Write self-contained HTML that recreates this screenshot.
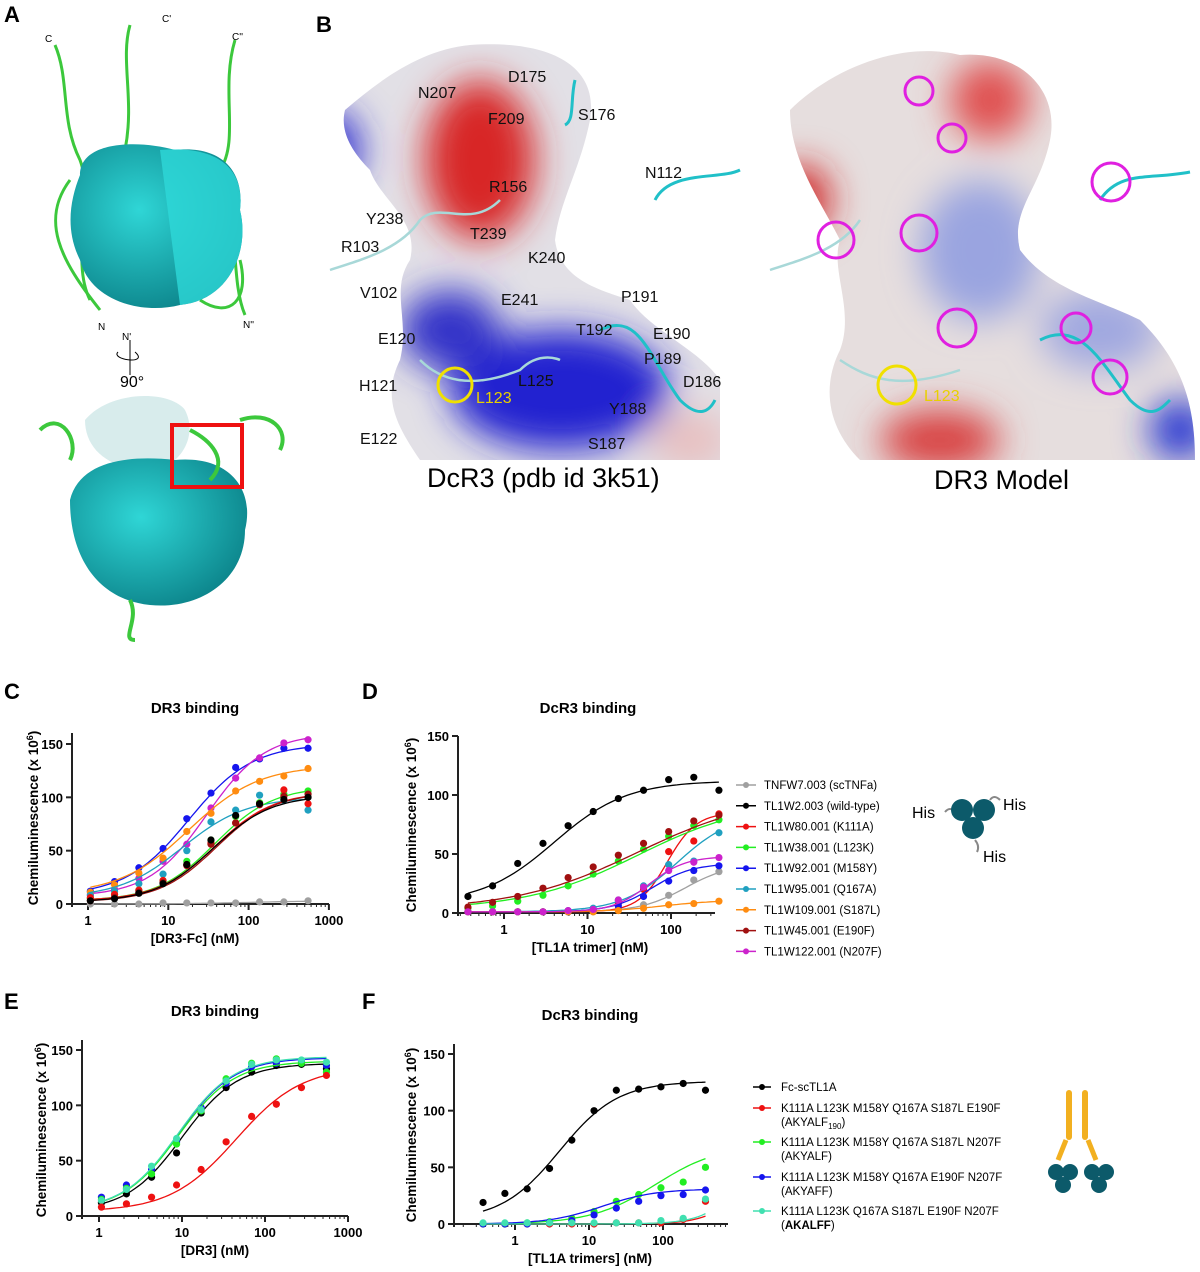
<!DOCTYPE html>
<html><head><meta charset="utf-8">
<style>
body{margin:0;background:#fff;}
svg{display:block;font-family:"Liberation Sans",Arial,sans-serif;}
.pl{font-size:22px;font-weight:bold;}
.lbl{font-size:16px;fill:#111;}
.tt{font-size:15px;font-weight:bold;}
.tk{font-size:13px;font-weight:bold;}
.at{font-size:13.5px;font-weight:bold;}
.lg{font-size:11.5px;}
</style></head>
<body>
<svg id="fig" width="1200" height="1272" viewBox="0 0 1200 1272">
<defs>
<radialGradient id="cy" cx="0.4" cy="0.4" r="0.7"><stop offset="0" stop-color="#2fd6d6"/><stop offset="1" stop-color="#0a7f86"/></radialGradient>
<filter id="bl" x="-50%" y="-50%" width="200%" height="200%"><feGaussianBlur stdDeviation="18"/></filter>
<clipPath id="cpl"><path d="M345 110 C380 80 420 50 470 45 C540 40 600 60 590 120 C580 170 560 200 555 240 C560 280 600 290 630 300 C650 330 700 350 720 380 L720 460 L420 460 C400 430 380 400 400 360 C410 320 390 290 410 260 C420 220 380 200 370 170 C350 150 340 130 345 110Z"/></clipPath>
<clipPath id="cpr"><path d="M790 110 C830 70 900 40 960 55 C1020 50 1060 90 1050 140 C1040 190 1010 210 1020 250 C1050 290 1100 300 1140 320 C1180 360 1195 400 1195 460 L860 460 C830 430 820 390 840 350 C855 310 830 270 840 240 C820 200 790 160 790 110Z"/></clipPath>
</defs>

<!-- Panel A -->
<g>
<text class="pl" x="4" y="22">A</text>
<g stroke="#3cc83c" stroke-width="3" fill="none">
<path d="M55 45 C70 80 60 120 80 160 C95 200 70 260 90 300"/>
<path d="M130 25 C120 60 135 100 125 150"/>
<path d="M235 40 C220 90 240 140 220 170 C240 220 230 280 245 315"/>
<path d="M70 180 C40 220 60 260 100 310 M200 300 C230 320 250 300 240 260"/>
</g>
<path d="M80 175 C80 140 140 140 175 150 C220 145 245 170 240 210 C250 250 230 300 180 305 C140 315 90 300 80 260 C65 230 70 200 80 175Z" fill="url(#cy)"/>
<path d="M160 150 C220 145 245 170 240 210 C250 250 230 300 180 305Z" fill="#2ed8d8" opacity="0.8"/>
<text x="45" y="42" font-size="10">C</text><text x="162" y="22" font-size="10">C'</text><text x="232" y="40" font-size="10">C''</text>
<text x="98" y="330" font-size="10">N</text><text x="122" y="340" font-size="10">N'</text><text x="243" y="328" font-size="10">N''</text>
<path d="M118 352 C110 360 150 365 135 352" stroke="#000" fill="none"/>
<line x1="130" y1="340" x2="130" y2="375" stroke="#000"/>
<text x="120" y="387" font-size="16">90°</text>
<path d="M85 420 C110 390 170 390 185 410 C200 440 175 470 150 470 C110 470 85 450 85 420Z" fill="#d8ecec"/>
<path d="M70 500 C80 460 130 455 175 460 C230 455 255 490 245 530 C245 580 200 610 150 605 C100 600 70 560 70 500Z" fill="url(#cy)"/>
<g stroke="#3cc83c" stroke-width="4" fill="none"><path d="M40 430 C60 410 80 440 70 460"/><path d="M240 420 C270 410 290 430 280 450"/><path d="M130 600 C140 620 120 640 135 640"/><path d="M190 430 C210 440 230 460 210 480"/></g>
<rect x="172" y="425" width="70" height="62" fill="none" stroke="#ee1111" stroke-width="4"/>
</g>

<!-- Panel B -->
<g>
<text class="pl" x="316" y="32">B</text>
<g clip-path="url(#cpl)">
<rect x="330" y="30" width="400" height="440" fill="#e2e0e6"/>
<g filter="url(#bl)">
<ellipse cx="330" cy="150" rx="30" ry="40" fill="#2a2ad0"/>
<ellipse cx="480" cy="160" rx="55" ry="80" fill="#d82828"/>
<ellipse cx="560" cy="390" rx="110" ry="60" fill="#2020d0"/>
<ellipse cx="450" cy="330" rx="50" ry="40" fill="#3030c8"/>
<ellipse cx="690" cy="440" rx="40" ry="30" fill="#e8c0c0"/>
</g></g>
<g clip-path="url(#cpr)">
<rect x="770" y="30" width="440" height="440" fill="#e6dede"/>
<g filter="url(#bl)">
<ellipse cx="800" cy="200" rx="30" ry="35" fill="#d02020"/>
<ellipse cx="990" cy="100" rx="40" ry="40" fill="#e05050"/>
<ellipse cx="980" cy="250" rx="60" ry="70" fill="#9aa4e0"/>
<ellipse cx="1100" cy="330" rx="60" ry="40" fill="#a0a8e0"/>
<ellipse cx="940" cy="440" rx="60" ry="30" fill="#d84040"/>
<ellipse cx="1180" cy="430" rx="30" ry="30" fill="#2030d0"/>
</g></g>
<g stroke="#20c0c8" stroke-width="3" fill="none"><path d="M655 200 C670 170 720 180 740 170"/><path d="M1100 200 C1120 170 1150 180 1190 172"/><path d="M575 80 C570 100 575 120 565 125"/><path d="M600 330 C640 310 650 360 680 400 C700 420 710 410 715 400"/><path d="M1040 340 C1080 320 1100 360 1130 400 C1150 420 1160 410 1170 400"/></g>
<g stroke="#a8d8d8" stroke-width="2.5" fill="none"><path d="M330 270 C360 260 400 250 420 220 C440 200 470 230 500 200"/><path d="M420 360 C440 380 470 390 520 370 C540 350 560 360 560 360"/><path d="M770 270 C800 260 840 250 860 220"/><path d="M840 360 C870 380 900 390 960 370"/></g>
<g class="lbl">
<text x="418" y="98">N207</text><text x="508" y="82">D175</text><text x="488" y="124">F209</text><text x="578" y="120">S176</text>
<text x="645" y="178">N112</text><text x="489" y="192">R156</text><text x="366" y="224">Y238</text><text x="470" y="239">T239</text>
<text x="341" y="252">R103</text><text x="528" y="263">K240</text><text x="360" y="298">V102</text><text x="501" y="305">E241</text>
<text x="621" y="302">P191</text><text x="576" y="335">T192</text><text x="653" y="339">E190</text><text x="378" y="344">E120</text>
<text x="644" y="364">P189</text><text x="518" y="386">L125</text><text x="359" y="391">H121</text><text x="683" y="387">D186</text>
<text x="609" y="414">Y188</text><text x="360" y="444">E122</text><text x="588" y="449">S187</text>
<text x="476" y="403" fill="#e8d000">L123</text><text x="924" y="401" fill="#e8d000">L123</text>
</g>
<circle cx="455" cy="385" r="17" fill="none" stroke="#f0e000" stroke-width="3"/>
<circle cx="897" cy="385" r="19" fill="none" stroke="#f0e000" stroke-width="3"/>
<g fill="none" stroke="#e020e0" stroke-width="3">
<circle cx="919" cy="91" r="14"/><circle cx="952" cy="138" r="14"/><circle cx="1111" cy="182" r="19"/><circle cx="836" cy="240" r="18"/><circle cx="919" cy="233" r="18"/><circle cx="957" cy="328" r="19"/><circle cx="1076" cy="328" r="15"/><circle cx="1110" cy="377" r="17"/>
</g>
<text x="427" y="487" font-size="27">DcR3 (pdb id 3k51)</text>
<text x="934" y="489" font-size="27">DR3 Model</text>
</g>

<text class="pl" x="4" y="699">C</text>
<text class="pl" x="362" y="699">D</text>
<text class="pl" x="4" y="1009">E</text>
<text class="pl" x="362" y="1009">F</text>

<g>
<text x="912" y="818" font-size="16">His</text><text x="1003" y="810" font-size="16">His</text><text x="983" y="862" font-size="16">His</text>
<path d="M945 812 q5 -6 10 0 M990 800 q4 -6 10 0 M975 840 q5 6 2 12" stroke="#888" fill="none" stroke-width="2"/>
<circle cx="962" cy="810" r="11" fill="#0c5a6a"/><circle cx="984" cy="810" r="11" fill="#0c5a6a"/><circle cx="973" cy="828" r="11" fill="#0c5a6a"/>
</g>
<g>
<rect x="1066" y="1090" width="6" height="50" rx="3" fill="#f2b020"/><rect x="1082" y="1090" width="6" height="50" rx="3" fill="#f2b020"/>
<path d="M1066 1140 L1058 1160 M1088 1140 L1096 1160" stroke="#f2b020" stroke-width="5"/>
<circle cx="1056" cy="1172" r="8" fill="#0c5a6a"/><circle cx="1070" cy="1172" r="8" fill="#0c5a6a"/><circle cx="1063" cy="1185" r="8" fill="#0c5a6a"/>
<circle cx="1092" cy="1172" r="8" fill="#0c5a6a"/><circle cx="1106" cy="1172" r="8" fill="#0c5a6a"/><circle cx="1099" cy="1185" r="8" fill="#0c5a6a"/>
</g>
<g id="charts"></g>
</svg>
<script>
const xC=[1.07,2.14,4.3,8.6,17,34,69,137,275,550];
const xD=[0.37,0.73,1.46,2.93,5.86,11.7,23.4,46.9,93.8,187.5,375];
const yTicks=[0,50,100,150];
const namesC=['gray','blue','magenta','orange','teal','green','red','darkred','black'];
const colorsC=['#a0a0a0','#1515ee','#cc22cc','#ff8c10','#20a0c0','#22ee22','#ee1111','#a01010','#000000'];
const valsC=[
[0,0,0,1,1,1,1,2,2,3],
[12,21,34,52,80,104,128,136,146,146],
[9,14,24,40,56,90,118,137,151,154],
[11,18,29,43,68,85,106,115,120,127],
[8,12,19,28,50,77,88,102,97,88],
[5,9,13,22,40,60,82,95,103,106],
[6,9,13,22,37,57,76,94,107,94],
[3,6,11,20,36,56,76,93,101,103],
[3,5,10,19,37,60,83,94,98,100]];
const fitC=[[0,3,100,1],[8,150,18,1.1],[7,160,30,1.2],[9,130,18,1],[6,100,15,1.1],[3,110,38,1.2],[3,105,38,1.2],[2,105,40,1.2],[2,102,36,1.2]];
const namesD=['gray','black','red','green','blue','teal','orange','darkred','magenta'];
const labelsD=['TNFW7.003 (scTNFa)','TL1W2.003 (wild-type)','TL1W80.001 (K111A)','TL1W38.001 (L123K)','TL1W92.001 (M158Y)','TL1W95.001 (Q167A)','TL1W109.001 (S187L)','TL1W45.001 (E190F)','TL1W122.001 (N207F)'];
const colorsD=['#a0a0a0','#000000','#ee1111','#22ee22','#1515ee','#20a0c0','#ff8c10','#a01010','#cc22cc'];
const valsD=[
[1,1,1,1,1,1,3,7,15,28,35],
[14,23,42,59,74,86,97,104,113,115,104],
[1,1,1,1,1,2,8,20,52,61,84],
[4,6,10,15,23,33,44,54,65,74,79],
[1,1,1,1,1,2,6,14,27,36,40],
[1,1,1,1,2,4,11,23,41,44,68],
[1,1,1,1,1,1,2,4,7,8,10],
[5,9,14,21,30,39,49,59,69,78,83],
[1,1,1,1,2,3,11,22,36,43,47]];
const fitD=[[1,42,150,1.6],[8,112,4,1],[1,85,90,2.5],[3,95,40,0.65],[1,42,60,1.8],[1,85,120,1.3],[1,11,80,1.3],[3,100,40,0.6],[1,48,55,2]];
const namesE=['black','blue','green','teal','red'];
const colorsE=['#000000','#1515ee','#22ee22','#40e0b0','#ee1111'];
const valsE=[
[12,20,35,57,93,116,130,136,137,133],
[17,28,42,67,98,120,135,138,140,136],
[15,25,38,65,95,124,138,142,138,130],
[14,24,45,70,96,122,137,141,141,139],
[8,11,17,28,42,67,90,101,116,127]];
const fitE=[[4,138,10,1.3],[5,143,9,1.3],[5,140,9,1.3],[5,144,9,1.3],[4,135,45,1.1]];
const namesF=['black','red','green','blue','teal'];
const colorsF=['#000000','#ee1111','#22ee22','#1515ee','#40e0b0'];
const valsF=[
[19,27,31,49,74,100,118,119,121,124,118],
[0,0,0,0,0,0,1,1,1,4,20],
[0,0,1,2,5,11,20,26,32,37,50],
[0,0,0,1,3,8,14,20,25,26,30],
[1,1,1,1,1,1,1,1,3,5,22]];
const fitF=[[3,126,4,1.1],[0,200,3000,1.6],[0,70,80,1],[0,31,15,1.2],[0,200,2500,1.6]];

const NS='http://www.w3.org/2000/svg';
const root=document.getElementById('charts');
function mk(tag,attrs,parent){const e=document.createElementNS(NS,tag);for(const k in attrs)e.setAttribute(k,attrs[k]);parent.appendChild(e);return e;}

function chart(cfg){
  const g=mk('g',{},root);
  
  
  const X=v=>cfg.x1px+(Math.log10(v))*cfg.dec;
  const Y=v=>cfg.y0-v*cfg.ys;
  const t=mk('text',{x:cfg.titleX,y:cfg.titleY,'text-anchor':'middle',class:'tt'},g);t.textContent=cfg.title;
  
  
  const ax=mk('path',{d:`M${cfg.axL} ${cfg.axTop} V${cfg.y0+3} M${cfg.axL-2} ${cfg.y0} H${cfg.axR}`,stroke:'#222','stroke-width':2,fill:'none'},g);
  
  
  yTicks.forEach(v=>{mk('line',{x1:cfg.axL-6,x2:cfg.axL,y1:Y(v),y2:Y(v),stroke:'#222','stroke-width':2},g);
    const l=mk('text',{x:cfg.axL-9,y:Y(v)+5,'text-anchor':'end',class:'tk'},g);l.textContent=v;
    
    });
  for(let d=cfg.dmin;d<=cfg.dmax;d++){for(let m=1;m<10;m++){const v=m*Math.pow(10,d);const px=X(v);if(px<cfg.axL+2||px>cfg.axR)continue;
    mk('line',{x1:px,x2:px,y1:cfg.y0,y2:cfg.y0+(m==1?6:3),stroke:'#222','stroke-width':m==1?2:1},g);
    if(m==1&&v>=1){const l=mk('text',{x:px,y:cfg.y0+21,'text-anchor':'middle',class:'tk'},g);l.textContent=v;
      
      }}}
  const xt=mk('text',{x:cfg.xtX,y:cfg.y0+39,'text-anchor':'middle',class:'at'},g);xt.textContent=cfg.xtitle;
  
  
  const yt=mk('text',{transform:`translate(${cfg.ytX},${cfg.ytY}) rotate(-90)`,'text-anchor':'middle',class:'at'},g);
  yt.innerHTML='Chemiluminescence (x 10<tspan dy="-5" font-size="9">6</tspan><tspan dy="5">)</tspan>';
  
  
  cfg.vals.forEach((arr,i)=>{
    const f=cfg.fit[i];const col=cfg.colors[i];
    const sg=mk('g',{},g);
    
    
    let d='';const lo=Math.log10(cfg.xs[0]),hi=Math.log10(cfg.xs[cfg.xs.length-1]);
    for(let k=0;k<=60;k++){const lx=lo+(hi-lo)*k/60;const x=Math.pow(10,lx);
      const y=f[0]+(f[1]-f[0])/(1+Math.pow(f[2]/x,f[3]));d+=(k?'L':'M')+X(x).toFixed(1)+' '+Y(y).toFixed(1);}
    const p=mk('path',{d:d,stroke:col,'stroke-width':1.3,fill:'none'},sg);
    
    
    arr.forEach((v,j)=>{const c=mk('circle',{cx:X(cfg.xs[j]),cy:Y(v),r:3.6,fill:col},sg);
      
      });
  });
}
chart({id:'chart-c',title:'DR3 binding',titleX:195,titleY:713,x1px:88,dec:80.3,y0:904,ys:160/150,axL:72,axR:329,axTop:733,dmin:0,dmax:3,xtitle:'[DR3-Fc]  (nM)',xtX:195,ytX:38,ytY:818,xs:xC,vals:valsC,fit:fitC,colors:colorsC,names:namesC});
chart({id:'chart-d',title:'DcR3 binding',titleX:588,titleY:713,x1px:504,dec:83.5,y0:913,ys:177/150,axL:458,axR:715,axTop:736,dmin:-1,dmax:2,xtitle:'[TL1A trimer] (nM)',xtX:590,ytX:416,ytY:825,xs:xD,vals:valsD,fit:fitD,colors:colorsD,names:namesD});
chart({id:'chart-e',title:'DR3 binding',titleX:215,titleY:1016,x1px:99,dec:83,y0:1216,ys:166/150,axL:82,axR:348,axTop:1040,dmin:0,dmax:3,xtitle:'[DR3]  (nM)',xtX:215,ytX:46,ytY:1130,xs:xC,vals:valsE,fit:fitE,colors:colorsE,names:namesE});
chart({id:'chart-f',title:'DcR3 binding',titleX:590,titleY:1020,x1px:515,dec:74,y0:1224,ys:170/150,axL:454,axR:728,axTop:1044,dmin:-1,dmax:2,xtitle:'[TL1A trimers]  (nM)',xtX:590,ytX:416,ytY:1135,xs:xD,vals:valsF,fit:fitF,colors:colorsF,names:namesF});

const lgD=mk('g',{},root);


labelsD.forEach((s,i)=>{const y=785+i*20.8;
  mk('line',{x1:736,x2:756,y1:y,y2:y,stroke:colorsD[i],'stroke-width':1.5},lgD);
  mk('circle',{cx:746,cy:y,r:3,fill:colorsD[i]},lgD);
  const t=mk('text',{x:764,y:y+4,class:'lg'},lgD);t.textContent=s;
  
  });
const lgF=mk('g',{},root);


const fy=[1087,1108,1142,1177,1211];
const mainF=['Fc-scTL1A','K111A L123K M158Y Q167A S187L E190F','K111A L123K M158Y Q167A S187L N207F','K111A L123K M158Y Q167A E190F N207F','K111A L123K Q167A S187L E190F N207F'];
const subF=['','(AKYALF<tspan font-size="8" dy="3">190</tspan><tspan dy="-3">)</tspan>','(AKYALF)','(AKYAFF)','(<tspan font-weight="bold">AKALFF</tspan>)'];
mainF.forEach((s,i)=>{const y=fy[i];
  mk('line',{x1:753,x2:771,y1:y,y2:y,stroke:colorsF[i],'stroke-width':1.5},lgF);
  mk('circle',{cx:762,cy:y,r:3,fill:colorsF[i]},lgF);
  const t=mk('text',{x:781,y:y+4,class:'lg'},lgF);t.textContent=s;
  
  
  if(subF[i]){const t2=mk('text',{x:781,y:y+18,class:'lg'},lgF);t2.innerHTML=subF[i];
    
    }});
</script>
</body></html>
